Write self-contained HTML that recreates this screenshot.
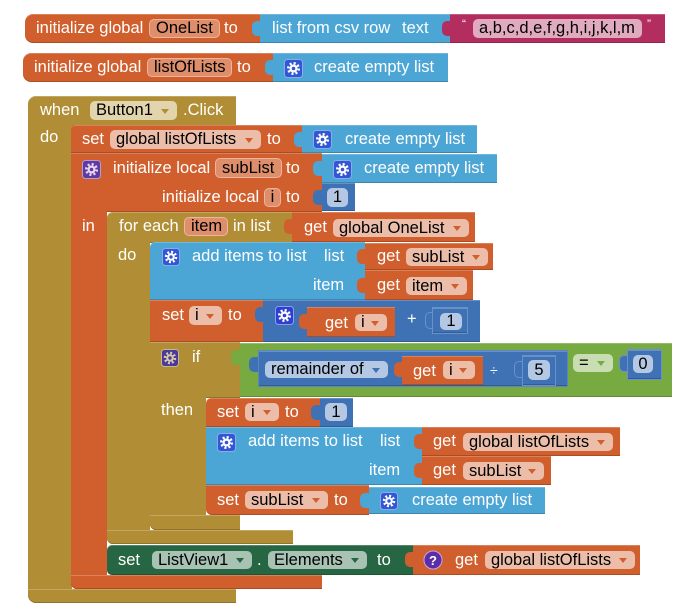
<!DOCTYPE html>
<html><head><meta charset="utf-8">
<style>
html,body{margin:0;padding:0;background:#fff;width:697px;height:608px;overflow:hidden;position:relative;font-family:"Liberation Sans",Arial,sans-serif}
.b{position:absolute;box-sizing:border-box;box-shadow:inset 0 1px 0 rgba(255,255,255,.22),inset 0 -1px 0 rgba(0,0,0,.18)}
.o{background:#D05F2D}.u{background:#4BA5D5}.g{background:#B18E35}.m{background:#3F71B5}.l{background:#77AB41}.p{background:#B32D5E}.c{background:#266643}
.t{position:absolute;color:#fff;font-size:16.5px;line-height:20px;white-space:nowrap}
.f{position:absolute;box-sizing:border-box;border-radius:5px;color:#000;font-size:16.5px;white-space:nowrap;display:flex;align-items:center;padding-left:6px}
.fn{background:#DF8E6B;border:1px solid #EDB59D}
.fo{background:#ECBEAA}
.fg{background:#E2D5AD}
.fb{background:#B4C7E3;justify-content:center;padding-left:0}
.fl{background:#C9DDB3}
.fc{background:#A8C2B4}
.fp{background:#E1ABBF}
.a{position:absolute;right:8px;top:50%;margin-top:-2px;width:0;height:0;border-left:4px solid transparent;border-right:4px solid transparent;border-top:5px solid #D05F2D}
.tab{position:absolute;width:10px;height:15px;border-radius:5px 0 0 5px}
svg{position:absolute}
</style></head><body>

<!-- Row 1 -->
<div class="b o" style="left:25px;top:14px;width:236px;height:29px;border-radius:8px 0 0 8px"></div>
<div class="t" style="left:36px;top:18px">initialize global</div>
<div class="f fn" style="left:149px;top:19px;width:71px;height:19px">OneList</div>
<div class="t" style="left:224px;top:18px">to</div>
<div class="tab u" style="left:252px;top:21px"></div>
<div class="b u" style="left:260px;top:14px;width:190px;height:29px"></div>
<div class="t" style="left:272px;top:18px">list from csv row</div>
<div class="t" style="left:402px;top:18px">text</div>
<div class="tab p" style="left:442px;top:21px"></div>
<div class="b p" style="left:450px;top:14px;width:215px;height:29px"></div>
<div class="t" style="left:462px;top:14px;font-size:12px">“</div>
<div class="f fp" style="left:473px;top:19px;width:169px;height:19px">a,b,c,d,e,f,g,h,i,j,k,l,m</div>
<div class="t" style="left:647px;top:14px;font-size:12px">”</div>

<!-- Row 2 -->
<div class="b o" style="left:23px;top:53px;width:251px;height:29px;border-radius:8px 0 0 8px"></div>
<div class="t" style="left:34px;top:57px">initialize global</div>
<div class="f fn" style="left:147px;top:58px;width:85px;height:19px">listOfLists</div>
<div class="t" style="left:237px;top:57px">to</div>
<div class="tab u" style="left:265px;top:60px"></div>
<div class="b u" style="left:273px;top:53px;width:175px;height:29px"></div>
<svg style="left:284px;top:59px" width="19" height="19"><rect x=".5" y=".5" width="18" height="18" rx="3" fill="#3157D3" stroke="#8EA8EE"/><circle cx="9.5" cy="9.5" r="5.2" fill="none" stroke="#fff" stroke-width="2.6" stroke-dasharray="2.04 2.04"/><circle cx="9.5" cy="9.5" r="4" fill="#fff"/><circle cx="9.5" cy="9.5" r="1.8" fill="#3157D3"/></svg>
<div class="t" style="left:314px;top:57px">create empty list</div>

<!-- Event block -->
<div class="b g" style="left:28px;top:96px;width:208px;height:30px;border-radius:8px 0 0 0"></div>
<div class="b g" style="left:28px;top:96px;width:44px;height:507px;border-radius:8px 0 0 8px"></div>
<div class="b g" style="left:28px;top:589px;width:208px;height:14px;border-radius:0 0 0 8px"></div>
<div class="t" style="left:40px;top:100px">when</div>
<div class="f fg" style="left:90px;top:101px;width:87px;height:19px">Button1<i class="a" style="border-top-color:#B18E35"></i></div>
<div class="t" style="left:183px;top:100px">.Click</div>
<div class="t" style="left:40px;top:127px">do</div>

<!-- set global listOfLists -->
<div class="b o" style="left:71px;top:125px;width:232px;height:28px;border-radius:4px 0 0 0"></div>
<div class="t" style="left:82px;top:129px">set</div>
<div class="f fo" style="left:110px;top:130px;width:151px;height:19px">global listOfLists<i class="a"></i></div>
<div class="t" style="left:267px;top:129px">to</div>
<div class="tab u" style="left:294px;top:132px"></div>
<div class="b u" style="left:302px;top:125px;width:175px;height:28px"></div>
<svg style="left:313px;top:130px" width="19" height="19"><rect x=".5" y=".5" width="18" height="18" rx="3" fill="#3157D3" stroke="#8EA8EE"/><circle cx="9.5" cy="9.5" r="5.2" fill="none" stroke="#fff" stroke-width="2.6" stroke-dasharray="2.04 2.04"/><circle cx="9.5" cy="9.5" r="4" fill="#fff"/><circle cx="9.5" cy="9.5" r="1.8" fill="#3157D3"/></svg>
<div class="t" style="left:345px;top:129px">create empty list</div>

<!-- initialize local -->
<div class="b o" style="left:71px;top:153px;width:251px;height:59px"></div>
<div class="b o" style="left:71px;top:153px;width:36px;height:436px;border-radius:0 0 0 6px"></div>
<div class="b o" style="left:71px;top:575px;width:251px;height:14px;border-radius:0 0 0 6px"></div>
<svg style="left:82px;top:160px" width="19" height="19"><rect x=".5" y=".5" width="18" height="18" rx="3" fill="#5E3AA3" stroke="#B59BD8"/><circle cx="9.5" cy="9.5" r="5.2" fill="none" stroke="#E9D6F0" stroke-width="2.6" stroke-dasharray="2.04 2.04"/><circle cx="9.5" cy="9.5" r="4" fill="#E9D6F0"/><circle cx="9.5" cy="9.5" r="1.8" fill="#5E3AA3"/></svg>
<div class="t" style="left:113px;top:158px">initialize local</div>
<div class="f fn" style="left:215px;top:158px;width:67px;height:20px">subList</div>
<div class="t" style="left:286px;top:158px">to</div>
<div class="tab u" style="left:313px;top:161px"></div>
<div class="b u" style="left:322px;top:154px;width:175px;height:29px"></div>
<svg style="left:333px;top:160px" width="19" height="19"><rect x=".5" y=".5" width="18" height="18" rx="3" fill="#3157D3" stroke="#8EA8EE"/><circle cx="9.5" cy="9.5" r="5.2" fill="none" stroke="#fff" stroke-width="2.6" stroke-dasharray="2.04 2.04"/><circle cx="9.5" cy="9.5" r="4" fill="#fff"/><circle cx="9.5" cy="9.5" r="1.8" fill="#3157D3"/></svg>
<div class="t" style="left:364px;top:158px">create empty list</div>
<div class="t" style="left:162px;top:187px">initialize local</div>
<div class="f fn" style="left:264px;top:188px;width:17px;height:19px;padding-left:0;justify-content:center">i</div>
<div class="t" style="left:286px;top:187px">to</div>
<div class="tab m" style="left:313px;top:190px"></div>
<div class="b m" style="left:322px;top:183px;width:33px;height:28px"></div>
<div class="f fb" style="left:327px;top:188px;width:21px;height:19px">1</div>
<div class="t" style="left:82px;top:216px">in</div>

<!-- for each -->
<div class="b g" style="left:107px;top:212px;width:186px;height:31px;border-radius:6px 0 0 0"></div>
<div class="b g" style="left:107px;top:212px;width:43px;height:332px;border-radius:6px 0 0 6px"></div>
<div class="b g" style="left:107px;top:530px;width:186px;height:14px;border-radius:0 0 0 6px"></div>
<div class="t" style="left:119px;top:216px">for each</div>
<div class="f fn" style="left:184px;top:217px;width:44px;height:19px">item</div>
<div class="t" style="left:233px;top:216px">in list</div>
<div class="tab o" style="left:284px;top:219px"></div>
<div class="b o" style="left:292px;top:212px;width:183px;height:30px"></div>
<div class="t" style="left:304px;top:217px">get</div>
<div class="f fo" style="left:333px;top:219px;width:136px;height:18px">global OneList<i class="a"></i></div>
<div class="t" style="left:118px;top:245px">do</div>

<!-- add items to list 1 -->
<div class="b u" style="left:150px;top:242px;width:215px;height:58px;border-radius:5px 0 0 0"></div>
<svg style="left:162px;top:248px" width="18" height="18"><rect x=".5" y=".5" width="17" height="17" rx="3" fill="#3157D3" stroke="#8EA8EE"/><circle cx="9" cy="9" r="5" fill="none" stroke="#fff" stroke-width="2.5" stroke-dasharray="1.96 1.96"/><circle cx="9" cy="9" r="3.8" fill="#fff"/><circle cx="9" cy="9" r="1.7" fill="#3157D3"/></svg>
<div class="t" style="left:192px;top:246px">add items to list</div>
<div class="t" style="left:324px;top:246px">list</div>
<div class="t" style="left:313px;top:275px">item</div>
<div class="tab o" style="left:357px;top:249px"></div>
<div class="b o" style="left:365px;top:243px;width:128px;height:27px"></div>
<div class="t" style="left:377px;top:246px">get</div>
<div class="f fo" style="left:406px;top:248px;width:82px;height:18px">subList<i class="a"></i></div>
<div class="tab o" style="left:357px;top:278px"></div>
<div class="b o" style="left:365px;top:270px;width:108px;height:30px"></div>
<div class="t" style="left:377px;top:275px">get</div>
<div class="f fo" style="left:406px;top:277px;width:61px;height:18px">item<i class="a"></i></div>

<!-- set i to i+1 -->
<div class="b o" style="left:150px;top:300px;width:113px;height:42px"></div>
<div class="t" style="left:162px;top:305px">set</div>
<div class="f fo" style="left:189px;top:306px;width:33px;height:19px">i<i class="a"></i></div>
<div class="t" style="left:228px;top:305px">to</div>
<div class="tab m" style="left:255px;top:307px"></div>
<div class="b m" style="left:263px;top:300px;width:217px;height:42px"></div>
<svg style="left:275px;top:306px" width="19" height="19"><rect x=".5" y=".5" width="18" height="18" rx="3" fill="#2F3FD0" stroke="#8E9CEE"/><circle cx="9.5" cy="9.5" r="5.2" fill="none" stroke="#fff" stroke-width="2.6" stroke-dasharray="2.04 2.04"/><circle cx="9.5" cy="9.5" r="4" fill="#fff"/><circle cx="9.5" cy="9.5" r="1.8" fill="#2F3FD0"/></svg>
<div class="tab o" style="left:299px;top:314px"></div>
<div class="b o" style="left:307px;top:307px;width:88px;height:30px"></div>
<div class="t" style="left:325px;top:313px">get</div>
<div class="f fo" style="left:355px;top:314px;width:32px;height:17px">i<i class="a"></i></div>
<div class="t" style="left:407px;top:309px">+</div>
<div class="tab m" style="left:425px;top:312px;border:1px solid #6C90C8"></div>
<div class="b m" style="left:432px;top:307px;width:36px;height:27px;border:1px solid #6C90C8"></div>
<div class="f fb" style="left:440px;top:313px;width:22px;height:17px">1</div>

<!-- if block -->
<div class="b g" style="left:150px;top:342px;width:90px;height:56px"></div>
<div class="b g" style="left:150px;top:342px;width:56px;height:188px;border-radius:0 0 0 6px"></div>
<div class="b g" style="left:150px;top:515px;width:90px;height:15px;border-radius:0 0 0 6px"></div>
<svg style="left:161px;top:349px" width="18" height="18"><rect x=".5" y=".5" width="17" height="17" rx="3" fill="#4A3A9E" stroke="#C9B68A"/><circle cx="9" cy="9" r="5" fill="none" stroke="#D9CBA8" stroke-width="2.5" stroke-dasharray="1.96 1.96"/><circle cx="9" cy="9" r="3.8" fill="#D9CBA8"/><circle cx="9" cy="9" r="1.7" fill="#4A3A9E"/></svg>
<div class="t" style="left:192px;top:347px">if</div>
<div class="t" style="left:161px;top:400px">then</div>
<div class="tab l" style="left:231px;top:350px"></div>
<div class="b l" style="left:240px;top:343px;width:432px;height:54px"></div>
<div class="tab m" style="left:249px;top:357px"></div>
<div class="b m" style="left:258px;top:350px;width:310px;height:37px;border:1px solid #5C86C2"></div>
<div class="f fb" style="left:265px;top:361px;width:123px;height:17px;justify-content:flex-start;padding-left:6px">remainder of<i class="a" style="border-top-color:#3F71B5"></i></div>
<div class="tab o" style="left:394px;top:362px"></div>
<div class="b o" style="left:402px;top:356px;width:81px;height:29px"></div>
<div class="t" style="left:413px;top:361px">get</div>
<div class="f fo" style="left:443px;top:361px;width:32px;height:18px">i<i class="a"></i></div>
<div class="t" style="left:490px;top:360px;font-size:14px">÷</div>
<div class="tab m" style="left:514px;top:361px;border:1px solid #6C90C8"></div>
<div class="b m" style="left:522px;top:355px;width:34px;height:31px;border:1px solid #6C90C8"></div>
<div class="f fb" style="left:528px;top:360px;width:22px;height:20px">5</div>
<div class="f fl" style="left:573px;top:354px;width:40px;height:18px">=<i class="a" style="border-top-color:#77AB41"></i></div>
<div class="tab m" style="left:619px;top:355px;border:1px solid #6C90C8"></div>
<div class="b m" style="left:627px;top:349px;width:35px;height:31px;border:1px solid #6C90C8"></div>
<div class="f fb" style="left:633px;top:355px;width:20px;height:18px">0</div>

<!-- then: set i to 1 -->
<div class="b o" style="left:206px;top:398px;width:114px;height:29px;border-radius:5px 0 0 0"></div>
<div class="t" style="left:217px;top:402px">set</div>
<div class="f fo" style="left:245px;top:403px;width:34px;height:18px">i<i class="a"></i></div>
<div class="t" style="left:285px;top:402px">to</div>
<div class="tab m" style="left:311px;top:405px"></div>
<div class="b m" style="left:320px;top:398px;width:33px;height:29px"></div>
<div class="f fb" style="left:325px;top:403px;width:22px;height:18px">1</div>

<!-- add items to list 2 -->
<div class="b u" style="left:206px;top:427px;width:216px;height:58px"></div>
<svg style="left:217px;top:433px" width="19" height="19"><rect x=".5" y=".5" width="18" height="18" rx="3" fill="#3157D3" stroke="#8EA8EE"/><circle cx="9.5" cy="9.5" r="5.2" fill="none" stroke="#fff" stroke-width="2.6" stroke-dasharray="2.04 2.04"/><circle cx="9.5" cy="9.5" r="4" fill="#fff"/><circle cx="9.5" cy="9.5" r="1.8" fill="#3157D3"/></svg>
<div class="t" style="left:248px;top:431px">add items to list</div>
<div class="t" style="left:380px;top:431px">list</div>
<div class="t" style="left:369px;top:460px">item</div>
<div class="tab o" style="left:414px;top:434px"></div>
<div class="b o" style="left:422px;top:427px;width:198px;height:29px"></div>
<div class="t" style="left:433px;top:431px">get</div>
<div class="f fo" style="left:463px;top:433px;width:150px;height:18px">global listOfLists<i class="a"></i></div>
<div class="tab o" style="left:414px;top:463px"></div>
<div class="b o" style="left:422px;top:456px;width:129px;height:29px"></div>
<div class="t" style="left:433px;top:460px">get</div>
<div class="f fo" style="left:463px;top:462px;width:81px;height:18px">subList<i class="a"></i></div>

<!-- set subList -->
<div class="b o" style="left:206px;top:485px;width:163px;height:30px;border-radius:0 0 0 6px"></div>
<div class="t" style="left:217px;top:490px">set</div>
<div class="f fo" style="left:245px;top:491px;width:83px;height:18px">subList<i class="a"></i></div>
<div class="t" style="left:334px;top:490px">to</div>
<div class="tab u" style="left:360px;top:493px"></div>
<div class="b u" style="left:369px;top:487px;width:176px;height:27px"></div>
<svg style="left:380px;top:492px" width="18" height="18"><rect x=".5" y=".5" width="17" height="17" rx="3" fill="#3157D3" stroke="#8EA8EE"/><circle cx="9" cy="9" r="5" fill="none" stroke="#fff" stroke-width="2.5" stroke-dasharray="1.96 1.96"/><circle cx="9" cy="9" r="3.8" fill="#fff"/><circle cx="9" cy="9" r="1.7" fill="#3157D3"/></svg>
<div class="t" style="left:412px;top:490px">create empty list</div>

<!-- set ListView1.Elements -->
<div class="b c" style="left:107px;top:545px;width:306px;height:30px;border-radius:5px 0 0 5px"></div>
<div class="t" style="left:118px;top:550px">set</div>
<div class="f fc" style="left:152px;top:551px;width:100px;height:18px">ListView1<i class="a" style="border-top-color:#266643"></i></div>
<div class="t" style="left:257px;top:550px">.</div>
<div class="f fc" style="left:268px;top:551px;width:99px;height:18px">Elements<i class="a" style="border-top-color:#266643"></i></div>
<div class="t" style="left:377px;top:550px">to</div>
<div class="tab o" style="left:405px;top:552px"></div>
<div class="b o" style="left:413px;top:545px;width:227px;height:30px"></div>
<svg style="left:423px;top:550px" width="20" height="20"><circle cx="10" cy="10" r="9" fill="#5A2EA6" stroke="#C9A6E6" stroke-width="1"/><text x="10" y="15" text-anchor="middle" font-family="Liberation Sans, sans-serif" font-size="13" font-weight="bold" fill="#fff">?</text></svg>
<div class="t" style="left:455px;top:550px">get</div>
<div class="f fo" style="left:485px;top:551px;width:150px;height:18px">global listOfLists<i class="a"></i></div>

</body></html>
